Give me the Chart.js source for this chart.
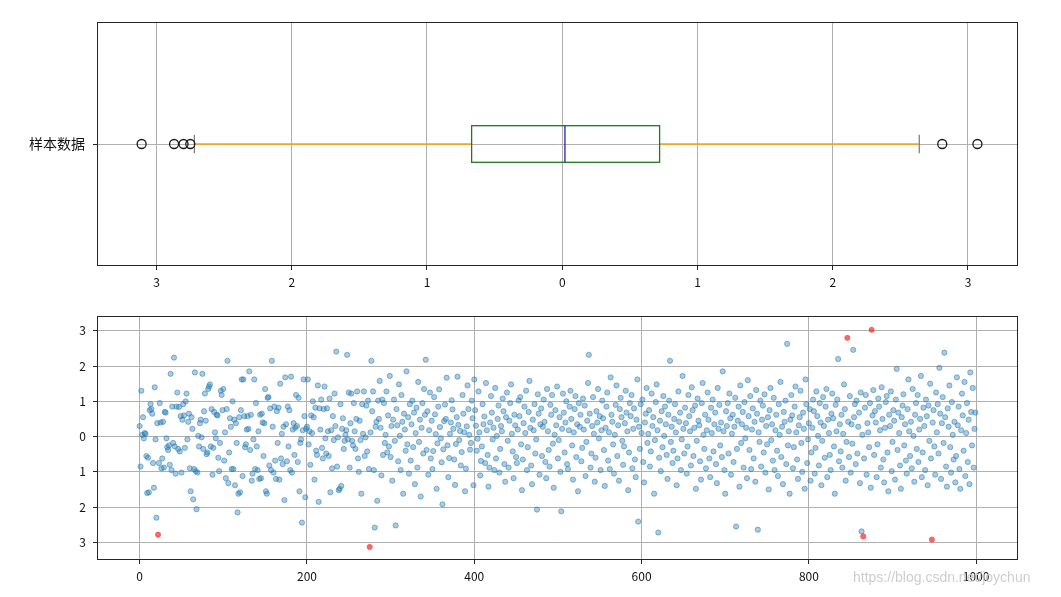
<!DOCTYPE html>
<html>
<head>
<meta charset="utf-8">
<script src="https://cdn.jsdelivr.net/npm/chart.js@4.4.0/dist/chart.umd.min.js"></script>
<style>
    body { margin: 0; background: #fff; width: 1061px; height: 597px; overflow: hidden; position: relative; }
    canvas { position: absolute; left: 0; }
    #boxChart { top: 0; }
    #scatterChart { top: 297px; }
    .mark { position: absolute; left: 853px; top: 569px; color: #cdcdcd; font: 14px "Liberation Sans", Arial, sans-serif; }
</style>
</head>
<body>
<canvas id="boxChart" width="1061" height="297"></canvas>
<canvas id="scatterChart" width="1061" height="300"></canvas>
<div class="mark">https://blog.csdn.net/joychun</div>
<script>
// top panel: box plot of the sample
const boxLabel = "样本数据";
const boxQ1 = -0.67;
const boxMedian = 0.02;
const boxQ3 = 0.72;
const whiskerLow = -2.72;
const whiskerHigh = 2.64;
const boxOutliers = [-3.11, -2.87, -2.80, -2.75, 2.81, 3.07];
const topTicks = [-3, -2, -1, 0, 1, 2, 3];

// bottom panel: the sample in order
const bottomXTicks = [0, 200, 400, 600, 800, 1000];
const bottomYTicks = [-3, -2, -1, 0, 1, 2, 3];
const sampleValues = [
    0.30, -0.85, 1.30, 0.05, 0.55, -0.05, 0.10, 0.08, -0.55, -1.60, -0.60, -1.58, 0.75, 0.92, 0.78, 0.65, -0.75, -1.45, 1.40, -0.08, -2.30, 0.38, -2.78, -0.75, 0.95,
    0.40, -0.90, -0.62, 0.42, -0.88, 0.70, 0.68, -0.05, -0.30, -0.38, -0.25, -0.80, 1.78, -0.95, 0.85, -0.18, 2.24, -0.28, -1.05, 0.85, 1.25, -0.35, 0.84, -0.42, 0.58,
    -1.02, 0.48, 0.92, 0.60, -0.32, 1.00, 1.22, -0.08, 0.42, 0.65, -0.90, -1.55, 0.55, 0.22, -1.78, -0.92, 1.82, -0.98, -2.06, -1.02, 0.02, -0.28, 0.38, 0.48, -0.02,
    1.78, -0.35, 0.72, 1.22, 0.45, -0.50, -0.45, 1.35, 1.42, 1.48, -0.28, 0.78, -1.08, -0.32, 0.70, 0.12, -0.05, 0.62, 0.60, -0.60, -0.98, -0.18, 1.30, 1.18, 0.75,
    1.35, -0.68, 0.12, -1.18, 0.78, 2.15, -1.32, -0.45, 0.52, 0.28, -0.92, 1.00, -0.92, 0.48, -1.38, 0.38, -0.18, -2.15, -1.62, 0.55, -1.58, 0.75, 1.62, -1.12, 1.62,
    0.58, -0.30, -0.22, 0.20, 0.58, 0.22, 1.85, -0.38, 0.62, -1.25, -1.05, -0.08, 1.62, -0.92, 0.95, -0.28, -0.95, 0.15, -1.20, 0.62, -1.18, 0.65, 0.40, -0.55, 0.38,
    1.35, -1.55, -1.62, 1.10, 1.12, -0.82, 0.80, -0.95, 2.15, 0.28, -1.02, 0.85, -0.68, -1.20, 0.72, -0.18, 0.82, -1.22, 1.50, -0.62, 0.08, -0.78, 0.28, -1.80, 1.68,
    0.35, -0.70, 0.85, -0.28, 0.75, -0.95, 1.70, -1.02, 0.20, 0.38, -0.52, 0.25, 1.18, 0.30, -0.72, 1.10, -1.55, -0.18, -0.08, -2.44, 0.18, 1.62, 0.58, -1.72, 0.22,
    0.28, 1.62, -0.22, 0.15, -0.80, 0.60, 0.10, 1.00, 0.55, -1.22, 0.82, -0.40, -0.52, 1.45, -1.85, 0.80, 0.20, 1.05, -0.32, -0.62, 0.78, 1.42, -0.05, -0.48, 0.80,
    0.15, -0.55, 1.08, -1.58, 0.18, -0.90, 0.58, -0.10, 1.22, 0.30, 2.41, -0.85, -0.02, -1.52, -1.48, 0.92, -1.40, 0.22, 0.52, -0.35, -0.12, 0.05, 0.18, 2.32, -0.08,
    1.25, -0.88, 0.38, 1.22, -0.12, -0.25, 0.95, 0.15, -0.35, 0.50, 1.28, -0.62, -1.00, 0.45, -0.10, -1.62, 0.92, 0.08, 1.28, -0.55, -0.02, 0.88, -0.42, 1.02, -0.92,
    -3.13, 0.12, 2.15, 0.72, 1.28, -0.95, -2.58, 0.28, 0.42, -1.82, 1.02, 0.50, 1.58, 0.25, -1.10, 1.05, -0.52, 0.95, -0.18, 0.05, 1.28, -0.45, 0.60, -0.28, 1.72,
    -0.58, 0.30, -1.25, 0.48, 1.05, -0.12, -2.52, 0.78, 0.32, -0.70, 1.48, 0.02, -0.95, 1.18, 0.42, -1.62, 0.65, 0.20, -0.40, 1.85, -0.22, 0.55, -1.05, 0.92, -0.68,
    0.35, 1.02, -0.30, 0.68, -1.35, 0.10, 0.82, -0.88, 1.55, -0.15, 0.48, -1.70, 0.25, 0.95, -0.48, 1.35, 0.62, 2.18, -0.38, 0.72, -1.08, 0.18, 1.25, -0.62, 0.45,
    -0.92, -0.41, 1.12, 0.63, 0.07, -1.48, -0.19, 0.85, 1.34, 0.27, -0.05, -0.73, -1.92, -0.36, 0.44, 0.91, 0.50, 1.67, -0.25, -1.15, -0.61, 0.08, 0.40, 1.03, 0.77,
    0.22, -0.65, -1.37, -0.21, 0.55, 1.70, 0.33, -0.10, 0.16, -0.82, -0.44, 1.18, 0.65, 0.12, -1.55, -0.91, 0.29, 1.45, 0.78, 0.05, -0.37, -0.18, 1.02, 0.52, -1.38,
    1.62, 0.75, 0.31, -0.40, -0.06, 1.28, 0.12, -1.10, -0.69, -0.28, 0.92, 0.35, 0.57, -0.75, 1.52, 0.18, -0.52, -1.42, -0.88, 0.40, 1.15, 0.68, -0.08, 0.25, -0.95,
    1.38, -0.62, 0.02, 0.50, 0.88, -1.02, -0.35, 0.30, 0.15, 1.08, 0.72, -0.78, -1.28, 0.55, 1.25, -0.12, -0.88, 0.45, 0.95, 1.48, 0.08, -0.42, -1.18, 0.62, 0.32,
    -0.58, -0.75, 0.20, 1.02, 0.58, 1.12, -0.22, -1.52, -0.65, 0.38, 0.85, 0.10, 1.30, -0.95, -0.30, 0.70, 1.58, 0.25, -0.82, -1.35, 0.48, 0.18, 0.92, -0.48, -0.08,
    -2.07, 1.20, 0.65, -1.08, 0.35, 0.80, -0.55, 0.28, 1.05, 0.42, -0.72, -1.18, 1.35, 0.15, -0.38, -0.85, 0.90, 0.62, 1.18, -0.20, -1.45, 0.05, 0.75, 0.32, 1.42,
    -0.62, -0.10, 0.55, -1.00, -2.12, 0.22, 1.22, 0.68, -0.45, 0.40, 1.00, -0.78, -0.92, 0.18, 0.85, 1.30, 0.50, -0.25, -1.22, 0.12, 0.78, 1.15, -0.58, 0.35, -1.55,
    0.95, 0.28, 0.62, -0.70, -0.32, 1.08, 0.20, 0.88, -1.12, -0.15, 0.45, 1.52, 2.32, 0.65, -0.88, -0.48, 0.30, 1.12, 0.08, -1.28, -0.60, 0.72, 0.40, 1.35, -0.05,
    0.58, -0.95, 0.18, 1.02, 0.52, -0.38, -1.40, 0.25, 0.85, 1.25, -0.68, 0.12, -0.92, 1.68, 0.62, 0.42, -0.22, -1.05, 0.05, 0.90, 1.45, -0.55, 0.32, -1.25, 0.78,
    1.10, 0.55, -0.12, -0.80, -0.28, 0.38, 1.30, 0.68, 0.15, -1.52, -0.45, 0.95, 0.58, 1.18, -0.90, 0.22, 0.80, -0.65, -1.15, 0.48, 1.62, -2.41, 0.28, -0.35, 0.92,
    0.10, 1.05, -0.72, -1.30, 0.40, 0.65, 1.38, -0.18, 0.08, 0.75, -0.85, -0.42, 1.22, 0.30, 0.55, -1.62, -0.10, 0.98, 1.48, 0.18, -2.72, -0.60, 0.45, -0.98, 0.72,
    -0.30, 1.15, 0.02, 0.85, 0.35, -0.52, -1.20, 0.62, 1.02, 2.15, -0.15, 0.28, -0.75, -0.40, 0.50, 0.92, 0.12, -1.38, -0.62, 1.28, 0.42, 0.68, -0.95, -0.08, 1.72,
    0.22, -0.48, 0.82, 0.38, -1.05, -0.28, 1.18, 0.58, 0.15, -0.82, 1.40, 0.75, -0.55, 0.25, 0.88, -1.48, -0.12, 1.08, 0.45, 0.32, -0.70, -1.22, 0.95, 1.52, 0.05,
    -0.35, 0.62, -0.90, 0.18, 1.25, 0.48, -0.62, -1.15, 0.82, 0.10, 1.05, -0.42, 0.35, 0.68, -0.78, -1.32, 1.38, 0.22, 0.90, -0.25, 0.40, -0.58, 1.85, 0.15, -0.95,
    -1.62, 0.72, 0.30, 0.95, -0.48, 1.22, 0.52, -1.08, 0.08, 0.62, -0.72, 0.28, 1.10, -2.55, -0.35, 0.45, 0.85, -1.42, 1.45, -0.18, 0.35, 0.70, -0.88, 0.98, -0.05,
    0.25, -1.18, 1.60, 0.58, -0.38, 1.15, -0.92, 0.20, 0.80, -0.62, 0.42, -1.28, 1.32, 0.65, -2.64, 0.12, -0.15, 1.02, -0.85, 0.48, 0.88, -0.45, 1.20, -1.02, 0.30,
    -0.22, 0.55, -1.50, 0.75, 1.38, -0.10, 0.35, -0.68, 1.10, -0.95, 0.18, 0.62, -0.40, -1.12, 0.92, 0.05, 1.55, -0.58, 0.28, -1.35, 0.70, 0.42, 1.02, -0.78, 2.63,
    -0.25, 0.15, -1.62, 0.48, 1.18, 0.60, -0.90, -0.30, 0.85, 1.42, 0.12, -0.65, -1.20, 0.32, 0.55, 1.30, -0.18, -1.00, 0.68, 0.22, -1.48, 1.62, 0.92, -0.75, -0.08,
    0.38, 0.78, -1.25, -0.45, 0.25, 1.05, 0.72, -1.05, -0.32, 1.28, 0.58, 0.02, -0.82, 0.95, 0.40, -1.38, -0.12, 1.12, 0.30, -0.60, 0.85, 1.35, -1.15, 0.48, 0.10,
    -0.52, -0.95, 0.65, 1.22, 0.52, -0.28, -1.62, 0.90, 0.15, 1.05, 2.20, -0.70, 0.35, -0.42, 0.62, -0.88, 0.08, 1.48, 0.78, -1.25, -0.15, 2.80, 0.42, -0.58, 1.15,
    -1.02, 0.35, -0.20, 2.46, 0.55, 0.92, -0.78, 1.02, -0.48, 0.28, 0.68, -1.32, 1.25, -2.69, 0.05, -2.83, -0.62, 0.82, 1.18, -1.08, 0.38, 0.12, -0.30, 0.95, -1.45,
    3.03, 0.60, 1.32, -0.52, 0.72, 0.40, -1.15, -0.22, 1.08, 0.85, 0.18, -0.88, 1.40, 0.50, -0.65, -1.30, 0.25, 0.98, 1.15, -0.45, -1.55, 0.62, 0.30, 1.28, -0.98,
    -0.15, 0.75, 0.45, -1.22, 1.05, 1.92, -0.38, 0.68, 0.10, -0.82, -1.48, 0.55, 0.88, 1.20, -0.25, 0.35, -0.68, -1.05, 0.78, 1.62, 0.15, -0.55, 0.42, -0.90, 1.35,
    0.02, -1.28, 0.62, 0.95, -0.35, 1.18, -0.72, 0.20, 0.50, 1.72, -1.15, -0.45, 0.82, 0.30, -0.95, 1.05, 0.58, -1.38, 0.88, -0.12, 1.50, -0.62, -2.92, 0.40, 0.75,
    -0.28, -1.08, 1.25, 0.12, 0.92, -0.48, 1.95, 0.65, -1.20, 0.38, 1.12, -0.18, 2.38, 0.55, -0.85, -1.42, 0.80, 0.28, 1.45, -0.30, -1.02, 0.98, 0.05, -0.65, 0.42,
    -1.30, -0.55, 1.68, 0.32, 0.85, -0.92, -1.48, 0.18, 1.22, 0.60, -0.40, 1.55, -1.12, 0.10, 0.95, -0.72, 0.48, -1.35, 1.82, 0.70, -0.25, 1.38, -0.88, 0.22, 0.68
];

const tickFont = { family: "'Noto Sans CJK SC', 'DejaVu Sans', sans-serif", size: 12 };
const gridColor = "#b0b0b0";
const spineColor = "#262626";

// matplotlib-like frame on all four sides
const framePlugin = {
    id: "frame",
    afterDraw(chart) {
        const { ctx, chartArea: a } = chart;
        ctx.save();
        ctx.strokeStyle = spineColor;
        ctx.lineWidth = 1;
        ctx.strokeRect(a.left + 0.5, a.top + 0.5, a.right - a.left - 1, a.bottom - a.top - 1);
        ctx.restore();
    }
};

const boxPlugin = {
    id: "boxDraw",
    beforeDatasetsDraw(chart) {
        const { ctx, scales: { x, y } } = chart;
        const yc = y.getPixelForValue(1);
        const yTop = y.getPixelForValue(1.075);
        const yBot = y.getPixelForValue(0.925);
        const capTop = y.getPixelForValue(1.0375);
        const capBot = y.getPixelForValue(0.9625);
        const px = (v) => x.getPixelForValue(v);
        ctx.save();
        ctx.lineWidth = 1.3;
        ctx.strokeStyle = "#ffa500";
        ctx.beginPath();
        ctx.moveTo(px(whiskerLow), yc); ctx.lineTo(px(boxQ1), yc);
        ctx.moveTo(px(boxQ3), yc); ctx.lineTo(px(whiskerHigh), yc);
        ctx.stroke();
        ctx.strokeStyle = "#808080";
        ctx.beginPath();
        ctx.moveTo(px(whiskerLow), capTop); ctx.lineTo(px(whiskerLow), capBot);
        ctx.moveTo(px(whiskerHigh), capTop); ctx.lineTo(px(whiskerHigh), capBot);
        ctx.stroke();
        ctx.strokeStyle = "#1f7a1f";
        ctx.strokeRect(px(boxQ1), yTop, px(boxQ3) - px(boxQ1), yBot - yTop);
        ctx.strokeStyle = "#2222b0";
        ctx.beginPath();
        ctx.moveTo(px(boxMedian), yTop); ctx.lineTo(px(boxMedian), yBot);
        ctx.stroke();
        ctx.restore();
    }
};

function axisStyle(ticksList, extra) {
    return Object.assign({
        type: "linear",
        border: { display: false },
        grid: { color: gridColor, tickColor: spineColor, tickLength: 4, lineWidth: 1 },
        afterBuildTicks: (axis) => { axis.ticks = ticksList.map((v) => ({ value: v })); }
    }, extra);
}

new Chart(document.getElementById("boxChart"), {
    type: "scatter",
    data: {
        datasets: [{
            data: boxOutliers.map((v) => ({ x: v, y: 1 })),
            pointStyle: "circle",
            pointRadius: 4.5,
            backgroundColor: "rgba(0,0,0,0)",
            borderColor: "#1a1a1a",
            borderWidth: 1.3
        }]
    },
    options: {
        responsive: false,
        animation: false,
        layout: { padding: { top: 22, right: 43, left: 0, bottom: 0 } },
        plugins: { legend: { display: false }, tooltip: { enabled: false } },
        scales: {
            x: axisStyle(topTicks, {
                min: -3.44, max: 3.37,
                ticks: { font: tickFont, color: "#111", padding: 5, maxRotation: 0, callback: (v) => String(Math.abs(v)) },
                afterFit: (axis) => { axis.height = 31; }
            }),
            y: axisStyle([1], {
                min: 0.5, max: 1.5,
                ticks: { font: { family: tickFont.family, size: 14 }, color: "#111", padding: 8, callback: () => boxLabel },
                afterFit: (axis) => { axis.width = 97; }
            })
        }
    },
    plugins: [boxPlugin, framePlugin]
});

const inner = [];
const outer = [];
sampleValues.forEach((v, i) => {
    (v < whiskerLow || v > whiskerHigh ? outer : inner).push({ x: i, y: v });
});

new Chart(document.getElementById("scatterChart"), {
    type: "scatter",
    data: {
        datasets: [{
            data: inner,
            pointRadius: 2.6,
            borderWidth: 1,
            backgroundColor: "rgba(31,119,180,0.38)",
            borderColor: "rgba(31,119,180,0.5)"
        }, {
            data: outer,
            pointRadius: 2.6,
            borderWidth: 1,
            backgroundColor: "rgba(255,0,0,0.6)",
            borderColor: "rgba(255,60,60,0.6)"
        }]
    },
    options: {
        responsive: false,
        animation: false,
        layout: { padding: { top: 19, right: 43, left: 0, bottom: 0 } },
        plugins: { legend: { display: false }, tooltip: { enabled: false } },
        scales: {
            x: axisStyle(bottomXTicks, {
                min: -51, max: 1050,
                ticks: { font: tickFont, color: "#111", padding: 5, maxRotation: 0, callback: (v) => String(v) },
                afterFit: (axis) => { axis.height = 37; }
            }),
            y: axisStyle(bottomYTicks, {
                min: -3.5, max: 3.42,
                ticks: { font: tickFont, color: "#111", padding: 7, callback: (v) => String(Math.abs(v)) },
                afterFit: (axis) => { axis.width = 97; }
            })
        }
    },
    plugins: [framePlugin]
});
</script>
</body>
</html>
